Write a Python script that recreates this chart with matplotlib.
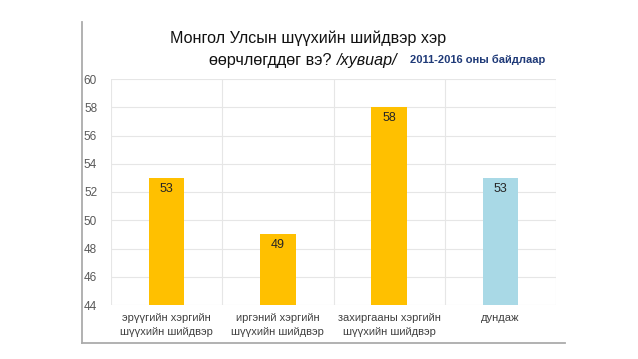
import matplotlib.pyplot as plt
from matplotlib.lines import Line2D

plt.rcParams['font.family'] = ['Liberation Sans', 'DejaVu Sans']

# өгөгдөл
categories = ['эрүүгийн хэргийн\nшүүхийн шийдвэр', 'иргэний хэргийн\nшүүхийн шийдвэр',
              'захиргааны хэргийн\nшүүхийн шийдвэр', 'дундаж']
values = [53, 49, 58, 53]
colors = ['#FFC000', '#FFC000', '#FFC000', '#A9D9E6']
yticks = [44, 46, 48, 50, 52, 54, 56, 58, 60]

W, H = 638, 359
fig = plt.figure(figsize=(W / 100, H / 100), dpi=100)

# тэнхлэгийн байрлал (пикселээр)
l, r, t, b = 111, 556, 79, 305
ax = fig.add_axes([l / W, 1 - b / H, (r - l) / W, (b - t) / H])

x = range(len(categories))
bars = ax.bar(x, [v - 44 for v in values], bottom=44, width=0.32, color=colors, zorder=3)
for rect, v in zip(bars, values):
    ax.text(rect.get_x() + rect.get_width() / 2, v - 0.35, str(v),
            ha='center', va='top', fontsize=9, color='#262626', zorder=4)

ax.set_xlim(-0.5, 3.5)
ax.set_ylim(44, 60)
ax.set_yticks(yticks)
ax.set_xticks(list(x))
ax.set_xticklabels(categories, fontsize=8, color='#404040', linespacing=1.45)
ax.set_xticks([-0.5, 0.5, 1.5, 2.5, 3.5], minor=True)
ax.tick_params(axis='y', labelsize=8.5, labelcolor='#595959', length=0, pad=10)
ax.tick_params(axis='x', which='both', length=0, pad=6)
ax.grid(axis='y', color='#E6E6E6', linewidth=0.8, zorder=0)
ax.grid(axis='x', which='minor', color='#E6E6E6', linewidth=0.8, zorder=0)
for s in ax.spines.values():
    s.set_visible(False)

# гарчиг
fig.text(308 / W, 1 - 38 / H, 'Монгол Улсын шүүхийн шийдвэр хэр',
         ha='center', va='center', fontsize=11.6, color='#111111')
fig.text(336 / W, 1 - 60 / H, 'өөрчлөгддөг вэ? ',
         ha='right', va='center', fontsize=11.6, color='#111111')
fig.text(337 / W, 1 - 60 / H, '/хувиар/', style='italic',
         ha='left', va='center', fontsize=11.6, color='#111111')
fig.text(410 / W, 1 - 60 / H, '2011-2016 оны байдлаар', fontweight='bold',
         ha='left', va='center', fontsize=8, color='#1F3A78')

# хүрээний сүүдэр
fig.add_artist(Line2D([82 / W, 82 / W], [1 - 22 / H, 1 - 343 / H], color='#ABABAB', lw=1.3))
fig.add_artist(Line2D([82 / W, 565 / W], [1 - 343 / H, 1 - 343 / H], color='#ABABAB', lw=1.3))

fig.savefig('out.png', dpi=100)
